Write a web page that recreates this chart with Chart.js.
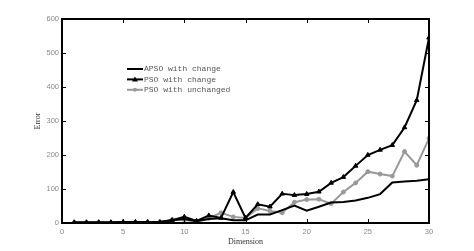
<!DOCTYPE html>
<html>
<head>
<meta charset="utf-8">
<script src="https://cdn.jsdelivr.net/npm/chart.js@4.4.0/dist/chart.umd.min.js"></script>
<style>
html,body{margin:0;padding:0;background:#fff;}
#wrap{width:474px;height:251px;position:relative;}
</style>
</head>
<body>
<div id="wrap"><canvas id="c" width="474" height="251"></canvas></div>
<script>
const dims = [1,2,3,4,5,6,7,8,9,10,11,12,13,14,15,16,17,18,19,20,21,22,23,24,25,26,27,28,29,30];
const apsoChange = [1,1,1,1,2,2,2,3,8,12,5,12,14,8,8,25,25,38,51,36,48,60,62,66,74,85,119,122,124,129];
const psoChange = [2,2,2,2,3,3,3,3,8,18,6,22,15,91,15,55,48,86,82,85,92,118,135,168,200,215,229,281,361,545];
const psoUnchanged = [1,1,1,1,1,2,2,2,10,9,5,14,30,18,15,43,35,30,61,69,70,57,91,118,151,144,138,210,170,249];
const seriesNames = ['APSO with change','PSO with change','PSO with unchanged'];
const xTicks = [0,5,10,15,20,25,30];
const yTicks = [0,100,200,300,400,500,600];

const toPts = arr => dims.map((d,i)=>({x:d,y:arr[i]}));

const boxPlugin = {
  id:'box',
  afterDraw(chart){
    const {ctx, chartArea:a, scales:{x,y}} = chart;
    ctx.save();
    ctx.strokeStyle='#000';
    ctx.lineWidth=1;
    xTicks.forEach(v=>{
      const px = Math.round(x.getPixelForValue(v))+0.5;
      ctx.beginPath();
      ctx.moveTo(px,a.bottom); ctx.lineTo(px,a.bottom-4);
      ctx.moveTo(px,a.top); ctx.lineTo(px,a.top+4);
      ctx.stroke();
    });
    yTicks.forEach(v=>{
      const py = Math.round(y.getPixelForValue(v))+0.5;
      ctx.beginPath();
      ctx.moveTo(a.left,py); ctx.lineTo(a.left+4,py);
      ctx.moveTo(a.right,py); ctx.lineTo(a.right-4,py);
      ctx.stroke();
    });
    ctx.lineWidth=2;
    ctx.strokeRect(a.left,a.top,a.right-a.left,a.bottom-a.top);
    // legend
    const lx=127, ly=69, dy=10.4;
    chart.data.datasets.forEach((ds,i)=>{
      const yy = ly+i*dy;
      ctx.strokeStyle=ds.borderColor; ctx.lineWidth=2;
      ctx.beginPath(); ctx.moveTo(lx,yy); ctx.lineTo(lx+16,yy); ctx.stroke();
      if(ds.pointStyle==='triangle'){
        ctx.fillStyle=ds.borderColor;
        ctx.beginPath(); ctx.moveTo(lx+8,yy-3); ctx.lineTo(lx+11,yy+2); ctx.lineTo(lx+5,yy+2); ctx.closePath(); ctx.fill();
      } else if(ds.pointRadius>0){
        ctx.fillStyle=ds.borderColor;
        ctx.beginPath(); ctx.arc(lx+8,yy,2,0,Math.PI*2); ctx.fill();
      }
      ctx.fillStyle='#555';
      ctx.font='8px "Liberation Mono", "DejaVu Sans Mono", monospace';
      ctx.textBaseline='middle'; ctx.textAlign='left';
      ctx.fillText(ds.label,lx+17,yy);
    });
    ctx.restore();
  }
};

new Chart(document.getElementById('c'),{
  type:'line',
  data:{datasets:[
    {label:seriesNames[0],data:toPts(apsoChange),borderColor:'#000',backgroundColor:'#000',borderWidth:2,pointRadius:0,tension:0},
    {label:seriesNames[1],data:toPts(psoChange),borderColor:'#000',backgroundColor:'#000',borderWidth:2,pointStyle:'triangle',pointRadius:2.6,pointBorderWidth:1,tension:0},
    {label:seriesNames[2],data:toPts(psoUnchanged),borderColor:'#999',backgroundColor:'#999',borderWidth:2,pointStyle:'circle',pointRadius:2,pointBorderWidth:1,tension:0}
  ]},
  plugins:[boxPlugin],
  options:{
    responsive:false,animation:false,
    layout:{padding:{top:19,right:45,left:0,bottom:0}},
    plugins:{legend:{display:false},tooltip:{enabled:false}},
    scales:{
      x:{type:'linear',min:0,max:30,
        afterBuildTicks(s){s.ticks=xTicks.map(v=>({value:v}));},
        afterFit(s){s.height=28;},
        grid:{display:true,drawOnChartArea:false,drawTicks:false},
        border:{display:false},
        ticks:{padding:4,color:'#888',font:{family:'"Liberation Sans", Arial, sans-serif',size:7.5},maxRotation:0},
        title:{display:true,text:'Dimension',color:'#333',font:{family:'"Liberation Serif", "DejaVu Serif", serif',size:8},padding:{top:0,bottom:4}}
      },
      y:{type:'linear',min:0,max:600,
        afterBuildTicks(s){s.ticks=yTicks.map(v=>({value:v}));},
        afterFit(s){s.width=62;},
        grid:{display:true,drawOnChartArea:false,drawTicks:false},
        border:{display:false},
        ticks:{padding:3,color:'#888',font:{family:'"Liberation Sans", Arial, sans-serif',size:7.5}},
        title:{display:true,text:'Error',color:'#333',font:{family:'"Liberation Serif", "DejaVu Serif", serif',size:8},padding:{top:33,bottom:0}}
      }
    }
  }
});
</script>
</body>
</html>
